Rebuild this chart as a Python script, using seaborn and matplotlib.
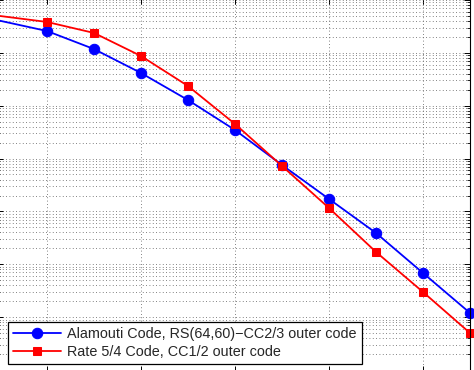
import matplotlib
matplotlib.use("Agg")
import matplotlib.pyplot as plt
import matplotlib.ticker as mticker
import numpy as np
import pandas as pd
import seaborn as sns

# ---- data ----
snr = [0, 2, 3, 4, 5, 6, 7, 8, 9, 10, 11]
series_names = ["Alamouti Code, RS(64,60)\u2212CC2/3 outer code",
                "Rate 5/4 Code, CC1/2 outer code"]
ber_alamouti = [0.633, 0.259, 0.118, 0.0416, 0.0128, 0.00347, 7.55e-4,
                1.72e-4, 3.91e-5, 6.84e-6, 1.20e-6]
ber_rate54 = [0.647, 0.384, 0.238, 0.0872, 0.0236, 0.00451, 7.24e-4,
              1.16e-4, 1.71e-5, 2.99e-6, 5.01e-7]
x_major_ticks = [2, 4, 6, 8, 10]

df = pd.DataFrame({
    "snr": snr * 2,
    "ber": ber_alamouti + ber_rate54,
    "scheme": [series_names[0]] * len(snr) + [series_names[1]] * len(snr),
})

sns.set_style("white")
plt.rcParams["font.family"] = ["Liberation Sans", "DejaVu Sans"]

fig = plt.figure(figsize=(4.74, 3.70), dpi=100)
ax = fig.add_axes([-3 / 474, -2 / 370, 473 / 474, 374 / 370])

sns.lineplot(data=df, x="snr", y="ber", hue="scheme", style="scheme",
             hue_order=series_names, style_order=series_names,
             palette={series_names[0]: "#0000ff", series_names[1]: "#ff0000"},
             markers={series_names[0]: "o", series_names[1]: "s"},
             dashes=False, linewidth=1.3, markersize=7, legend=False,
             ax=ax, sort=True)
ax.lines[0].set_markersize(7.5)
ax.lines[1].set_markersize(6.2)
for ln in ax.lines:
    ln.set_markeredgecolor(ln.get_color())
    ln.set_markerfacecolor(ln.get_color())
    ln.set_clip_on(False)

ax.set_yscale("log")
ax.set_ylim(10 ** (-7 - 2 / 52.857), 10 ** (2 / 52.857))
ax.set_xlim(1 - 3 / 47, 11)
ax.xaxis.set_major_locator(mticker.FixedLocator(x_major_ticks))
ax.xaxis.set_minor_locator(mticker.NullLocator())
ax.yaxis.set_major_locator(mticker.LogLocator(base=10, numticks=20))
ax.yaxis.set_minor_locator(mticker.LogLocator(base=10, subs=np.arange(2, 10), numticks=40))

ax.grid(True, which="major", axis="x", linestyle=(0, (1, 3)), color="0.35", linewidth=0.6)
ax.grid(True, which="both", axis="y", linestyle=(0, (1, 3)), color="0.35", linewidth=0.6)

ax.tick_params(which="both", direction="in", top=True, right=True, bottom=True, left=True,
               labelbottom=False, labelleft=False, color="black")
ax.tick_params(which="major", length=4, width=0.7)
ax.tick_params(which="minor", length=2.5, width=0.6)
for s in ax.spines.values():
    s.set_color("black")
    s.set_linewidth(0.8)
ax.set_xlabel("")
ax.set_ylabel("")

leg = ax.legend(ax.lines, series_names, loc="lower left",
                bbox_to_anchor=(8 / 474, 6 / 370), bbox_transform=fig.transFigure,
                borderaxespad=0, fancybox=False, framealpha=1, edgecolor="black",
                fontsize=10.4, handlelength=3.3, handletextpad=0.45,
                labelspacing=0.3, borderpad=0.35)
leg.get_frame().set_linewidth(0.9)
leg.set_zorder(5)

fig.savefig("out.png", dpi=100)
